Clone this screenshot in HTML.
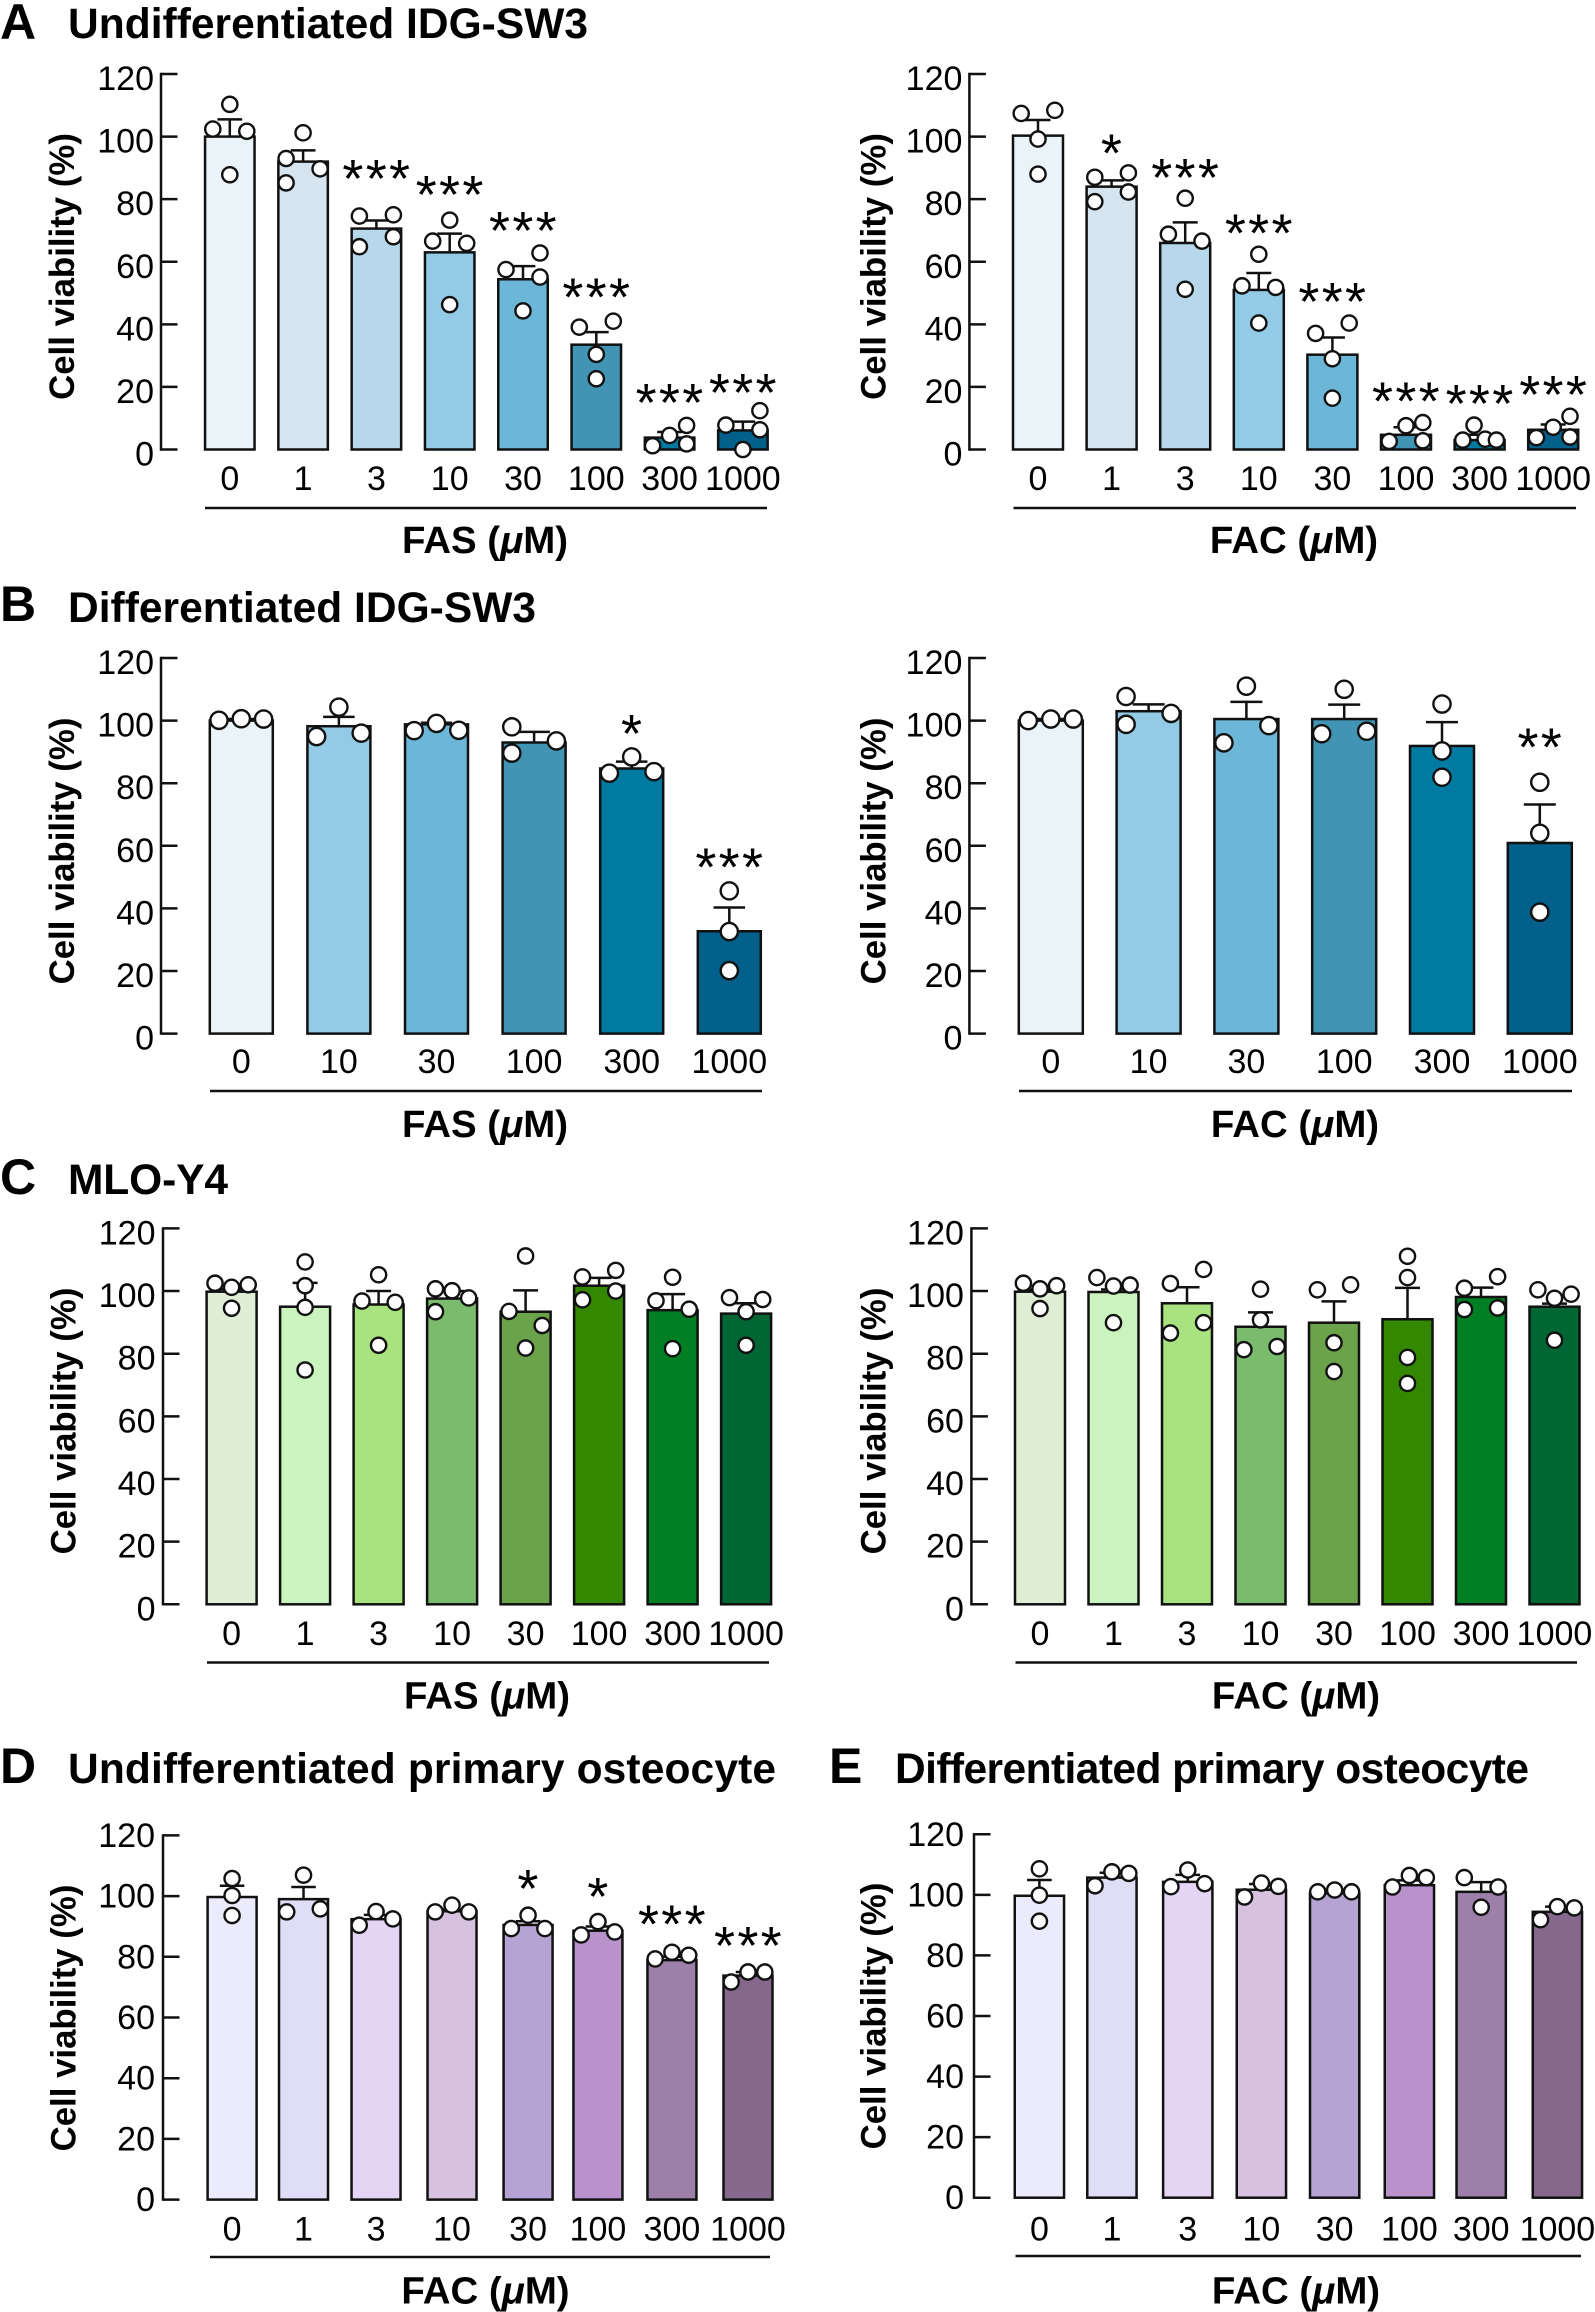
<!DOCTYPE html>
<html lang="en">
<head>
<meta charset="utf-8">
<title>Cell viability panels</title>
<style>
html,body{margin:0;padding:0;background:#fff;}
svg{display:block;font-family:"Liberation Sans",Arial,sans-serif;}
.panel-letter{font-weight:700;font-size:50px;fill:#000;}
.panel-title{font-weight:700;font-size:42.5px;fill:#000;}
.y-title{font-weight:700;font-size:34.8px;fill:#000;}
.x-title{font-weight:700;font-size:38.4px;fill:#000;text-anchor:middle;}
.tick-label{font-size:34px;fill:#000;}
.sig{font-size:54px;fill:#000;text-anchor:middle;letter-spacing:2.3px;}
</style>
</head>
<body>
<svg id="figure" xmlns="http://www.w3.org/2000/svg" width="1595" height="2312" viewBox="0 0 1595 2312">
  <rect x="0" y="0" width="1595" height="2312" fill="#fff"/>

  <text class="panel-letter" x="0" y="39">A</text>
  <text class="panel-title" x="68" y="38" textLength="520">Undifferentiated IDG-SW3</text>
  <text class="panel-letter" x="0" y="621">B</text>
  <text class="panel-title" x="68" y="622" textLength="468">Differentiated IDG-SW3</text>
  <text class="panel-letter" x="0" y="1194">C</text>
  <text class="panel-title" x="68" y="1194" textLength="160">MLO-Y4</text>
  <text class="panel-letter" x="0" y="1783">D</text>
  <text class="panel-title" x="68" y="1783" textLength="708">Undifferentiated primary osteocyte</text>
  <text class="panel-letter" x="829" y="1783">E</text>
  <text class="panel-title" x="895" y="1783" textLength="634">Differentiated primary osteocyte</text>

  <text class="y-title" transform="translate(74 266.5) rotate(-90)" text-anchor="middle">Cell viability (%)</text>
  <text class="y-title" transform="translate(885.5 266.5) rotate(-90)" text-anchor="middle">Cell viability (%)</text>
  <text class="y-title" transform="translate(74 851) rotate(-90)" text-anchor="middle">Cell viability (%)</text>
  <text class="y-title" transform="translate(885.5 851) rotate(-90)" text-anchor="middle">Cell viability (%)</text>
  <text class="y-title" transform="translate(75.5 1421) rotate(-90)" text-anchor="middle">Cell viability (%)</text>
  <text class="y-title" transform="translate(885.5 1421) rotate(-90)" text-anchor="middle">Cell viability (%)</text>
  <text class="y-title" transform="translate(75.5 2018) rotate(-90)" text-anchor="middle">Cell viability (%)</text>
  <text class="y-title" transform="translate(885.5 2016) rotate(-90)" text-anchor="middle">Cell viability (%)</text>

  <line x1="205" x2="767" y1="508" y2="508" stroke="#111" stroke-width="2.4"/>
  <line x1="1013.5" x2="1576" y1="508" y2="508" stroke="#111" stroke-width="2.4"/>
  <line x1="210" x2="762" y1="1091" y2="1091" stroke="#111" stroke-width="2.4"/>
  <line x1="1019" x2="1572" y1="1091" y2="1091" stroke="#111" stroke-width="2.4"/>
  <line x1="207" x2="769" y1="1662.5" y2="1662.5" stroke="#111" stroke-width="2.4"/>
  <line x1="1015.5" x2="1577" y1="1662.5" y2="1662.5" stroke="#111" stroke-width="2.4"/>
  <line x1="210" x2="770" y1="2257" y2="2257" stroke="#111" stroke-width="2.4"/>
  <line x1="1015.5" x2="1581" y1="2256" y2="2256" stroke="#111" stroke-width="2.4"/>

  <text class="x-title" x="485" y="553">FAS (<tspan font-style="italic">μ</tspan>M)</text>
  <text class="x-title" x="1294" y="553">FAC (<tspan font-style="italic">μ</tspan>M)</text>
  <text class="x-title" x="485" y="1137">FAS (<tspan font-style="italic">μ</tspan>M)</text>
  <text class="x-title" x="1295" y="1137">FAC (<tspan font-style="italic">μ</tspan>M)</text>
  <text class="x-title" x="487" y="1708.5">FAS (<tspan font-style="italic">μ</tspan>M)</text>
  <text class="x-title" x="1296" y="1708.5">FAC (<tspan font-style="italic">μ</tspan>M)</text>
  <text class="x-title" x="485.5" y="2303.5">FAC (<tspan font-style="italic">μ</tspan>M)</text>
  <text class="x-title" x="1296" y="2303.5">FAC (<tspan font-style="italic">μ</tspan>M)</text>
</svg>

<script>
// ---------- shared categories and ticks ----------
const doses8 = ['0', '1', '3', '10', '30', '100', '300', '1000'];
const doses6 = ['0', '10', '30', '100', '300', '1000'];
const yTicks = [0, 20, 40, 60, 80, 100, 120];

// ---------- colours ----------
const blues8 = ['#EAF3F8', '#D5E4EF', '#B7D7EA', '#93CAE5', '#6CB6D8', '#4294B5', '#007AA0', '#02608A'];
const blues6 = ['#EAF3F8', '#93CAE5', '#6CB6D8', '#4294B5', '#007AA0', '#02608A'];
const greens8 = ['#DFEED5', '#CAF3BE', '#A9E37F', '#7ABB6E', '#6BA34A', '#338800', '#007F24', '#006633'];
const purples8 = ['#ECEBFB', '#E0DDF7', '#E4D5F5', '#D6C1DF', '#B5A4D3', '#B992CC', '#9C80A9', '#86688C'];

// ---------- panel A, FAS ----------
const aFasMeans = [100, 92, 70.6, 63, 54.4, 33.5, 3.8, 6.1];
const aFasErrors = [5.5, 3.6, 2.6, 6, 4.2, 4, 1.8, 2.8];
const aFasPoints = [[110.3, 102.4, 101.7, 87.8], [101.2, 93, 89.7, 85.2], [74.6, 75, 68, 64.8], [73.3, 66.6, 65.9, 46.3], [62.8, 57.5, 55.1, 44.3], [41, 39.1, 30.4, 22.6], [7.7, 4.5, 1.2, 1.8], [12.4, 7.8, 6.3, 0]];
const aFasSides = [[0, -1, 1, 0], [0, -1, 1, -1], [-1, 1, 1, -1], [0, -1, 1, 0], [1, -1, 1, 0], [1, -1, 0, 0], [1, 0, -1, 1], [1, -1, 1, 0]];
const aFasStars = ['', '', '***', '***', '***', '***', '***', '***'];
const aFasStarLevels = [0, 0, 88.7, 83.6, 72, 50.8, 17.1, 20.3];

// ---------- panel A, FAC ----------
const aFacMeans = [100.3, 84, 66, 51, 30.3, 4.7, 3, 6.3];
const aFacErrors = [5, 2, 6.6, 5.4, 5.5, 2.4, 1.7, 1.7];
const aFacPoints = [[108.4, 107.4, 99.2, 88], [88.4, 87, 82.3, 79.2], [80.3, 68.8, 66.6, 51.2], [62.4, 52.3, 51.8, 40.4], [40.4, 37.1, 29, 16.4], [8.6, 7.6, 2.8, 2.6], [3, 7.8, 3.3, 3], [10.6, 7.1, 3.8, 4]];
const aFacSides = [[1, -1, 0, 0], [1, -1, 1, -1], [0, -1, 1, 0], [0, -1, 1, 0], [1, -1, 0, 0], [1, 0, 1, -1], [-1, -0.33, 0.33, 1], [1, 0, -1, 1]];
const aFacStars = ['', '*', '***', '***', '***', '***', '***', '***'];
const aFacStarLevels = [0, 96.8, 89, 71.3, 49.4, 17.6, 16.8, 19.7];

// ---------- panel B, FAS ----------
const bFasMeans = [100, 98.2, 98.8, 93, 84.7, 32.7];
const bFasErrors = [0.5, 3, 0.5, 3.4, 2.2, 7.6];
const bFasPoints = [[100.1, 100.6, 100.5], [104.3, 94.9, 96], [99.1, 96.8, 96.9], [98, 93.5, 89.6], [88.4, 83.2, 83.7], [45.6, 32.6, 20.1]];
const bFasSides = [[-1, 0, 1], [0, -1, 1], [0, -1, 1], [-1, 1, -1], [0, -1, 1], [0, 0, 0]];
const bFasStars = ['', '', '', '', '*', '***'];
const bFasStarLevels = [0, 0, 0, 0, 98, 55.3];

// ---------- panel B, FAC ----------
const bFacMeans = [100, 103, 100.5, 100.5, 91.9, 60.9];
const bFacErrors = [0.5, 2.2, 5.5, 4.6, 7.6, 12.3];
const bFacPoints = [[100, 100.5, 100.5], [107.7, 102.3, 98.8], [111, 98.4, 92.9], [110, 96.6, 95.8], [105.3, 90.3, 81.9], [80.3, 64, 38.8]];
const bFacSides = [[-1, 0, 1], [-1, 1, -1], [0, 1, -1], [0, 1, -1], [0, 0, 0], [0, 0, 0]];
const bFacStars = ['', '', '', '', '', '**'];
const bFacStarLevels = [0, 0, 0, 0, 0, 93.7];

// ---------- panel C, FAS ----------
const cFasMeans = [99.8, 95, 95.7, 97.6, 93.4, 101.7, 93.9, 92.8];
const cFasErrors = [0.8, 7.6, 4.3, 2.4, 6.8, 2.5, 5.1, 3.3];
const cFasPoints = [[102.5, 102, 101.2, 94.5], [109.3, 101.7, 94.8, 74.8], [105.2, 96.8, 96.4, 82.7], [100.7, 100.1, 97.8, 93.4], [111.2, 93.5, 89, 81.8], [106.6, 104.5, 100, 97.2], [104.4, 96.9, 94.2, 81.6], [97.9, 97.3, 93.4, 82.7]];
const cFasSides = [[-1, 1, 0, 0], [0, 0, 0, 0], [0, -1, 1, 0], [-1, 0, 1, -1], [0, -1, 1, 0], [1, -1, 1, -1], [0, -1, 1, 0], [-1, 1, 0, 0]];

// ---------- panel C, FAC ----------
const cFacMeans = [99.8, 99.7, 96.1, 88.6, 89.9, 91, 98.1, 95];
const cFacErrors = [0.7, 0.8, 5.1, 4.6, 6.8, 10, 3, 1];
const cFacPoints = [[102.5, 101.7, 100.7, 94.4], [104.3, 101.6, 101.9, 89.9], [106.9, 102.4, 89.9, 86.6], [100.6, 90.8, 82.3, 81.3], [102, 100.4, 83.5, 74.3], [111.1, 104.3, 78.8, 70.5], [104.6, 100.9, 94.1, 94.6], [100.4, 99, 97.7, 84.3]];
const cFacSides = [[-1, 1, 0, 0], [-1, 0, 1, 0], [1, -1, 1, -1], [0, 0, 1, -1], [1, -1, 0, 0], [0, 0, 0, 0], [1, -1, -1, 1], [-1, 1, 0, 0]];

// ---------- panel D ----------
const dMeans = [99.7, 99, 92.4, 95, 90.5, 88.6, 78.9, 73.8];
const dErrors = [3.7, 4, 1.4, 0.6, 1.2, 1.4, 1.1, 1.2];
const dPoints = [[105.8, 100.2, 93.6], [106.9, 94.8, 95.8], [94.9, 92.5, 90.4], [97, 94.8, 94.8], [93.7, 89.3, 89.3], [91.6, 88.2, 87.2], [81.5, 80.5, 79.3], [75, 75, 71.7]];
const dSides = [[0, 0, 0], [0, -1, 1], [0, 1, -1], [0, -1, 1], [0, 1, -1], [0, 1, -1], [0, 1, -1], [0, 1, -1]];
const dStars = ['', '', '', '', '*', '*', '***', '***'];
const dStarLevels = [0, 0, 0, 0, 104.6, 102, 93, 85.9];

// ---------- panel E ----------
const eMeans = [99.7, 105.7, 104.3, 101.7, 100.5, 103.2, 101, 94.4];
const eErrors = [5.2, 1.6, 2.3, 1.9, 1, 1.6, 3.2, 1.7];
const ePoints = [[108.6, 99.9, 91.3], [107.6, 107.1, 103], [108.2, 103.7, 102.7], [103.9, 102.8, 99.3], [101.6, 101, 101], [106.4, 105.7, 102.6], [105.7, 102.6, 95.9], [96.1, 95.7, 91.8]];
const eSides = [[0, 0, 0], [0, 1, -1], [0, 1, -1], [0, 1, -1], [0, -1, 1], [0, 1, -1], [-1, 1, 0], [0, 1, -1]];

// ---------- layouts (geometry lives here, separate from the data) ----------
const panels = [
  {id: 'a-fas', cats: doses8, colors: blues8, means: aFasMeans, errs: aFasErrors, pts: aFasPoints, sides: aFasSides, stars: aFasStars, starLevels: aFasStarLevels,
   axisX: 161, yTop: 74, yZero: 449.5, first: 229.8, step: 73.3, barW: 49.5, jitter: 17, r: 7.6, labelY: 490, tickDy: 16, tickGap: 7},
  {id: 'a-fac', cats: doses8, colors: blues8, means: aFacMeans, errs: aFacErrors, pts: aFacPoints, sides: aFacSides, stars: aFacStars, starLevels: aFacStarLevels,
   axisX: 969.4, yTop: 74, yZero: 449.5, first: 1038, step: 73.6, barW: 50, jitter: 16.8, r: 7.6, labelY: 490, tickDy: 16, tickGap: 7},
  {id: 'b-fas', cats: doses6, colors: blues6, means: bFasMeans, errs: bFasErrors, pts: bFasPoints, sides: bFasSides, stars: bFasStars, starLevels: bFasStarLevels,
   axisX: 161, yTop: 658, yZero: 1033.6, first: 241.3, step: 97.6, barW: 63, jitter: 22.3, r: 8.6, labelY: 1073, tickDy: 16, tickGap: 7},
  {id: 'b-fac', cats: doses6, colors: blues6, means: bFacMeans, errs: bFacErrors, pts: bFacPoints, sides: bFacSides, stars: bFacStars, starLevels: bFacStarLevels,
   axisX: 969.4, yTop: 658, yZero: 1033.6, first: 1050.8, step: 97.8, barW: 64, jitter: 22.5, r: 8.6, labelY: 1073, tickDy: 16, tickGap: 7},
  {id: 'c-fas', cats: doses8, colors: greens8, means: cFasMeans, errs: cFasErrors, pts: cFasPoints, sides: cFasSides, stars: null, starLevels: null,
   axisX: 163, yTop: 1228.4, yZero: 1604.3, first: 231.6, step: 73.5, barW: 50, jitter: 16.6, r: 7.6, labelY: 1645, tickDy: 16, tickGap: 7.5},
  {id: 'c-fac', cats: doses8, colors: greens8, means: cFacMeans, errs: cFacErrors, pts: cFacPoints, sides: cFacSides, stars: null, starLevels: null,
   axisX: 971.4, yTop: 1228.4, yZero: 1604.3, first: 1040, step: 73.5, barW: 50, jitter: 16.6, r: 7.6, labelY: 1645, tickDy: 16, tickGap: 7.5},
  {id: 'd', cats: doses8, colors: purples8, means: dMeans, errs: dErrors, pts: dPoints, sides: dSides, stars: dStars, starLevels: dStarLevels,
   axisX: 163, yTop: 1835.4, yZero: 2199.6, first: 232.1, step: 73.7, barW: 49, jitter: 16.8, r: 7.6, labelY: 2240.4, tickDy: 11.5, tickGap: 8,
   slots: [0, 0.969, 1.953, 2.984, 4.016, 4.964, 5.968, 7]},
  {id: 'e', cats: doses8, colors: purples8, means: eMeans, errs: eErrors, pts: ePoints, sides: eSides, stars: null, starLevels: null,
   axisX: 974, yTop: 1834.3, yZero: 2197.7, first: 1039.4, step: 74, barW: 49.3, jitter: 16.9, r: 7.6, labelY: 2240.4, tickDy: 11.5, tickGap: 10,
   slots: [0, 0.98, 2.005, 3, 3.99, 5, 5.97, 7]}
];

const SVGNS = 'http://www.w3.org/2000/svg';
const INK = '#111';
const LINE = 2.5;

function make(tag, attrs, parent, text) {
  const node = document.createElementNS(SVGNS, tag);
  for (const k in attrs) node.setAttribute(k, attrs[k]);
  if (text !== undefined) node.textContent = text;
  parent.appendChild(node);
  return node;
}

const figure = document.getElementById('figure');

panels.forEach(function (p) {
  const group = make('g', {id: 'panel-' + p.id}, figure);
  
  

  const yScale = function (v) { return p.yZero - (v / 120) * (p.yZero - p.yTop); };
  const xScale = function (i) { return p.first + (p.slots ? p.slots[i] : i) * p.step; };

  const spine = make('line', {x1: p.axisX, x2: p.axisX, y1: yScale(120) - 1.2, y2: yScale(0) + 1.2, stroke: INK, 'stroke-width': LINE}, group);
  
  

  yTicks.forEach(function (t) {
    const tick = make('line', {x1: p.axisX, x2: p.axisX + 16.5, y1: yScale(t), y2: yScale(t), stroke: INK, 'stroke-width': LINE}, group);
    
    
    const label = make('text', {'class': 'tick-label', x: p.axisX - p.tickGap, y: yScale(t) + p.tickDy, 'text-anchor': 'end'}, group, String(t));
    
    
  });

  p.cats.forEach(function (cat, i) {
    const cx = xScale(i);
    const top = yScale(p.means[i]);

    const bar = make('rect', {x: cx - p.barW / 2, y: top, width: p.barW, height: yScale(0) - top, fill: p.colors[i], stroke: INK, 'stroke-width': LINE}, group);
    
    

    const errTop = yScale(p.means[i] + p.errs[i]);
    const stem = make('line', {x1: cx, x2: cx, y1: top, y2: errTop, stroke: INK, 'stroke-width': LINE}, group);
    
    
    const cap = make('line', {x1: cx - p.barW / 4, x2: cx + p.barW / 4, y1: errTop, y2: errTop, stroke: INK, 'stroke-width': LINE}, group);
    
    

    p.pts[i].forEach(function (v, j) {
      const dot = make('circle', {cx: cx + p.sides[i][j] * p.jitter, cy: yScale(v), r: p.r, fill: '#fff', stroke: INK, 'stroke-width': 2.4}, group);
      
      
    });

    const xLabel = make('text', {'class': 'tick-label', x: cx, y: p.labelY, 'text-anchor': 'middle'}, group, cat);
    
    

    if (p.stars && p.stars[i]) {
      const star = make('text', {'class': 'sig', x: cx + 1, y: yScale(p.starLevels[i]) + 25}, group, p.stars[i]);
      
      
    }
  });
});
</script>
</body>
</html>
